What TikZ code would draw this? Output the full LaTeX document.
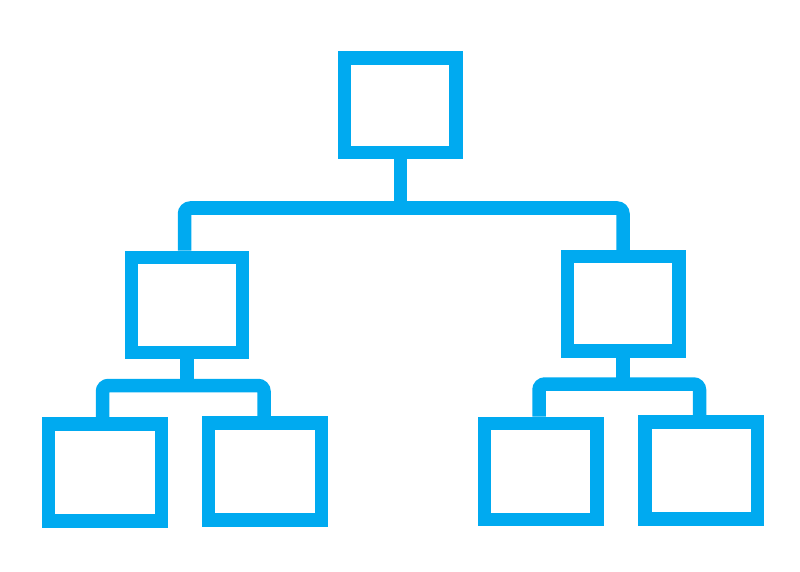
\documentclass[tikz,border=0pt]{standalone}
\definecolor{chartblue}{RGB}{0,170,240}
\begin{document}
\begin{tikzpicture}[x=1pt,y=-1pt,
  box/.style={draw=chartblue, line width=13.5pt, inner sep=0pt, fill=white},
  conn/.style={draw=chartblue, line width=13.5pt, rounded corners=6pt}]
\path[use as bounding box] (0,0) rectangle (800,572);
% junction points on the bars
\coordinate (b0) at (400.25,208);
\coordinate (bL) at (187,385.5);
\coordinate (bR) at (623,384);
% boxes
\node[box, minimum width=111.5pt, minimum height=94.5pt] (top) at (400.25,105.25) {};
\node[box, minimum width=111pt, minimum height=95pt] (mL) at (187,304.75) {};
\node[box, minimum width=111.5pt, minimum height=94.5pt] (mR) at (623,303.75) {};
\node[box, minimum width=113pt, minimum height=97pt] (bl1) at (105,472.5) {};
\node[box, minimum width=113pt, minimum height=97pt] (bl2) at (265,471.5) {};
\node[box, minimum width=112.5pt, minimum height=96pt] (br1) at (540.75,471.25) {};
\node[box, minimum width=112.5pt, minimum height=97pt] (br2) at (701.25,470.5) {};
% connectors
\draw[conn] (top.south) -- (b0);
\draw[conn] ([xshift=-2.5pt]mL.north) |- (b0) -| (mR.north);
\draw[conn] (mL.south) -- (bL);
\draw[conn] ([xshift=-2.5pt]bl1.north) |- (bL) -| ([xshift=-1pt]bl2.north);
\draw[conn] (mR.south) -- (bR);
\draw[conn] ([xshift=-1.75pt]br1.north) |- (bR) -| ([xshift=-1.75pt]br2.north);
\end{tikzpicture}
\end{document}
